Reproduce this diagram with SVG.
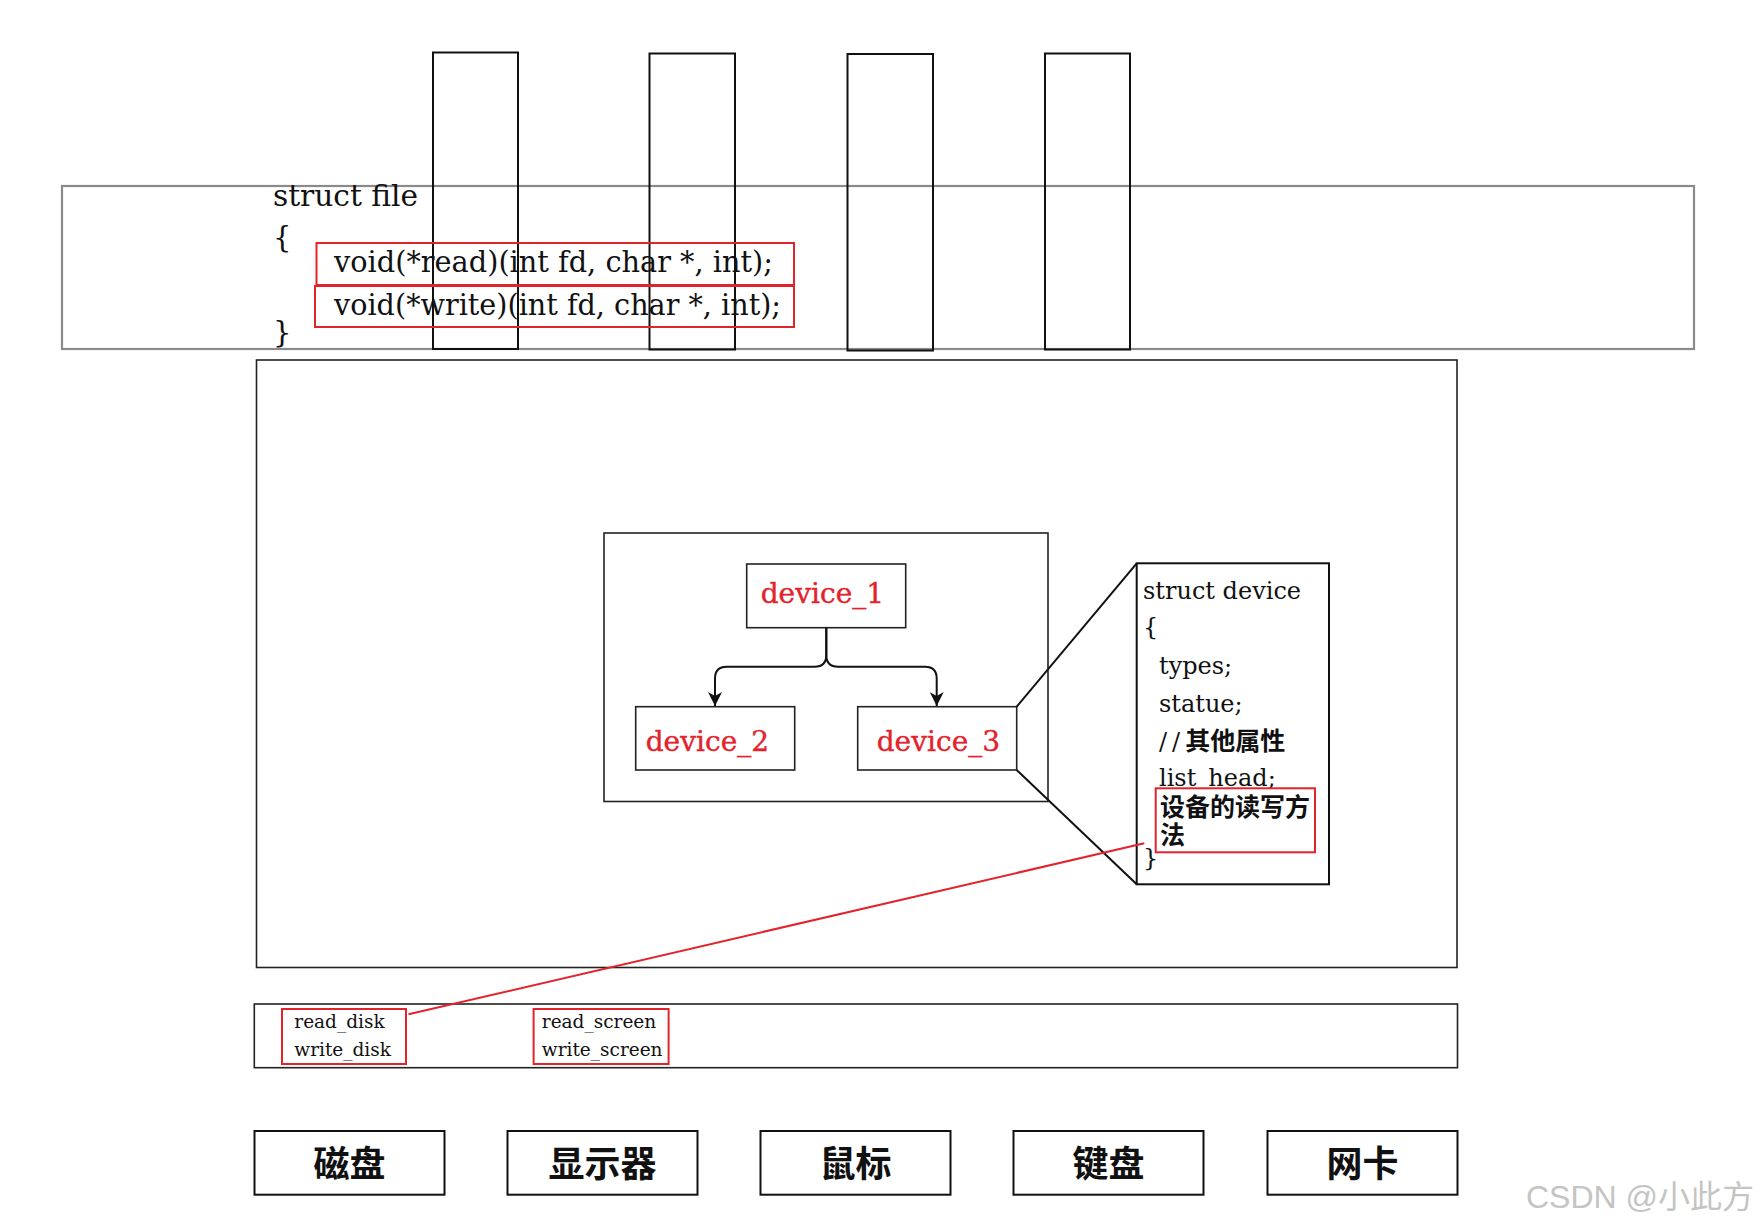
<svg xmlns="http://www.w3.org/2000/svg" width="1762" height="1228" viewBox="0 0 1762 1228">
<defs>
<style>
.bk{fill:none;stroke:#111;stroke-width:2}
.thin{fill:none;stroke:#222;stroke-width:1.6}
.gray{fill:none;stroke:#8a8a8a;stroke-width:2.2}
.red{fill:none;stroke:#e3232c;stroke-width:2}
.redw{fill:#fff;stroke:#e3232c;stroke-width:2}
.code{font-family:"DejaVu Serif","Liberation Serif",serif;fill:#111}
.dev{font-family:"DejaVu Serif","Liberation Serif",serif;font-size:28px;fill:#e3232c;stroke:#e3232c;stroke-width:0.4}
.cjk{font-family:"Noto Sans CJK SC","Noto Sans",sans-serif;font-weight:bold;fill:#111}
.hw{font-family:"Noto Sans CJK SC","Noto Sans",sans-serif;font-weight:bold;font-size:36px;fill:#111;text-anchor:middle}
.conn{fill:none;stroke:#111;stroke-width:2}
</style>
<marker id="arr" viewBox="0 0 14 14" refX="14" refY="7" markerWidth="14" markerHeight="14" markerUnits="userSpaceOnUse" orient="auto">
<path d="M0,0 L14,7 L0,14 L4,7 Z" fill="#111"/>
</marker>
</defs>

<g id="struct-file">
<rect class="gray" x="62" y="186" width="1632" height="163"/>
</g>

<g id="fd-slots">
<rect class="bk" x="433" y="52.5" width="85" height="296.5"/>
<rect class="bk" x="649.5" y="53.5" width="85.5" height="296"/>
<rect class="bk" x="847.5" y="54" width="85.5" height="296.5"/>
<rect class="bk" x="1045" y="53.5" width="85" height="296"/>
</g>

<g id="struct-file-text">
<rect class="red" x="316.5" y="243" width="477.5" height="42"/>
<rect class="red" x="315" y="286" width="479" height="41"/>
<text class="code" font-size="29" x="273" y="206" textLength="145" lengthAdjust="spacingAndGlyphs">struct file</text>
<text class="code" font-size="29" x="273" y="247">{</text>
<text class="code" font-size="29" x="334" y="272" textLength="439" lengthAdjust="spacingAndGlyphs">void(*read)(int fd, char *, int);</text>
<text class="code" font-size="29" x="334" y="315" textLength="447" lengthAdjust="spacingAndGlyphs">void(*write)(int fd, char *, int);</text>
<text class="code" font-size="29" x="273" y="342">}</text>
</g>

<g id="kernel">
<rect class="thin" x="256.5" y="360" width="1200.5" height="607.5"/>
</g>

<g id="device-list">
<rect class="thin" x="604" y="533" width="444" height="268.5"/>
</g>

<g id="device_1">
<rect class="thin" x="746.7" y="564" width="159" height="63.7"/>
<text class="dev" x="760.7" y="603.3">device_1</text>
</g>
<g id="device_2">
<rect class="thin" x="635.7" y="706.7" width="159" height="63.3"/>
<text class="dev" x="645.7" y="750.7">device_2</text>
</g>
<g id="device_3">
<rect class="thin" x="857.7" y="706.7" width="159" height="63.3"/>
<text class="dev" x="876.7" y="750.7">device_3</text>
</g>

<g id="struct-device">
<rect class="bk" x="1136.7" y="563.3" width="192.3" height="321"/>
<text class="code" font-size="24" x="1143" y="599">struct device</text>
<text class="code" font-size="24" x="1143" y="635">{</text>
<text class="code" font-size="24" x="1159" y="674">types;</text>
<text class="code" font-size="24" x="1159" y="712">statue;</text>
<text class="code" font-size="24" x="1159" y="750"><tspan letter-spacing="5">//</tspan><tspan class="cjk" font-size="25">其他属性</tspan></text>
<text class="code" font-size="24" x="1159" y="786">list_head;</text>
<rect class="redw" x="1155.7" y="788.3" width="159.3" height="64"/>
<text class="cjk" font-size="25" x="1160" y="816">设备的读写方</text>
<text class="cjk" font-size="25" x="1160" y="844">法</text>
<text class="code" font-size="24" x="1143" y="866">}</text>
</g>

<g id="driver-table">
<rect class="thin" x="254.3" y="1004" width="1203.2" height="63.7"/>
<rect class="red" x="282" y="1009" width="124" height="55"/>
<rect class="red" x="533.6" y="1009" width="135" height="55"/>
<text class="code" font-size="18.5" x="294.3" y="1027.7">read_disk</text>
<text class="code" font-size="18.5" x="294.3" y="1056">write_disk</text>
<text class="code" font-size="18.5" x="541.8" y="1027.7">read_screen</text>
<text class="code" font-size="18.5" x="541.8" y="1056">write_screen</text>
</g>

<g id="connectors">
<path class="conn" marker-end="url(#arr)" d="M826.3,627.7 V655 Q826.3,666.7 814.6,666.7 H726.7 Q715,666.7 715,678.4 V706"/>
<path class="conn" marker-end="url(#arr)" d="M826.3,627.7 V655 Q826.3,666.7 838,666.7 H925 Q936.7,666.7 936.7,678.4 V706"/>
<line x1="1016.7" y1="706.7" x2="1136.7" y2="563.3" stroke="#111" stroke-width="2"/>
<line x1="1016.7" y1="770" x2="1136.7" y2="884.3" stroke="#111" stroke-width="2"/>
<line x1="408.5" y1="1014.3" x2="1144.3" y2="843.3" stroke="#e3232c" stroke-width="2"/>
</g>

<g id="disk"><rect class="bk" x="254.5" y="1131" width="190" height="63.7"/><text class="hw" x="349.5" y="1177">磁盘</text></g>
<g id="screen"><rect class="bk" x="507.5" y="1131" width="190" height="63.7"/><text class="hw" x="602.5" y="1177">显示器</text></g>
<g id="mouse"><rect class="bk" x="760.5" y="1131" width="190" height="63.7"/><text class="hw" x="855.5" y="1177">鼠标</text></g>
<g id="keyboard"><rect class="bk" x="1013.5" y="1131" width="190" height="63.7"/><text class="hw" x="1108.5" y="1177">键盘</text></g>
<g id="nic"><rect class="bk" x="1267.5" y="1131" width="190" height="63.7"/><text class="hw" x="1362.5" y="1177">网卡</text></g>

<text x="1526" y="1208" font-family="'Liberation Sans','Noto Sans CJK SC',sans-serif" font-size="32" fill="#c4c4c4">CSDN @小此方</text>
</svg>
